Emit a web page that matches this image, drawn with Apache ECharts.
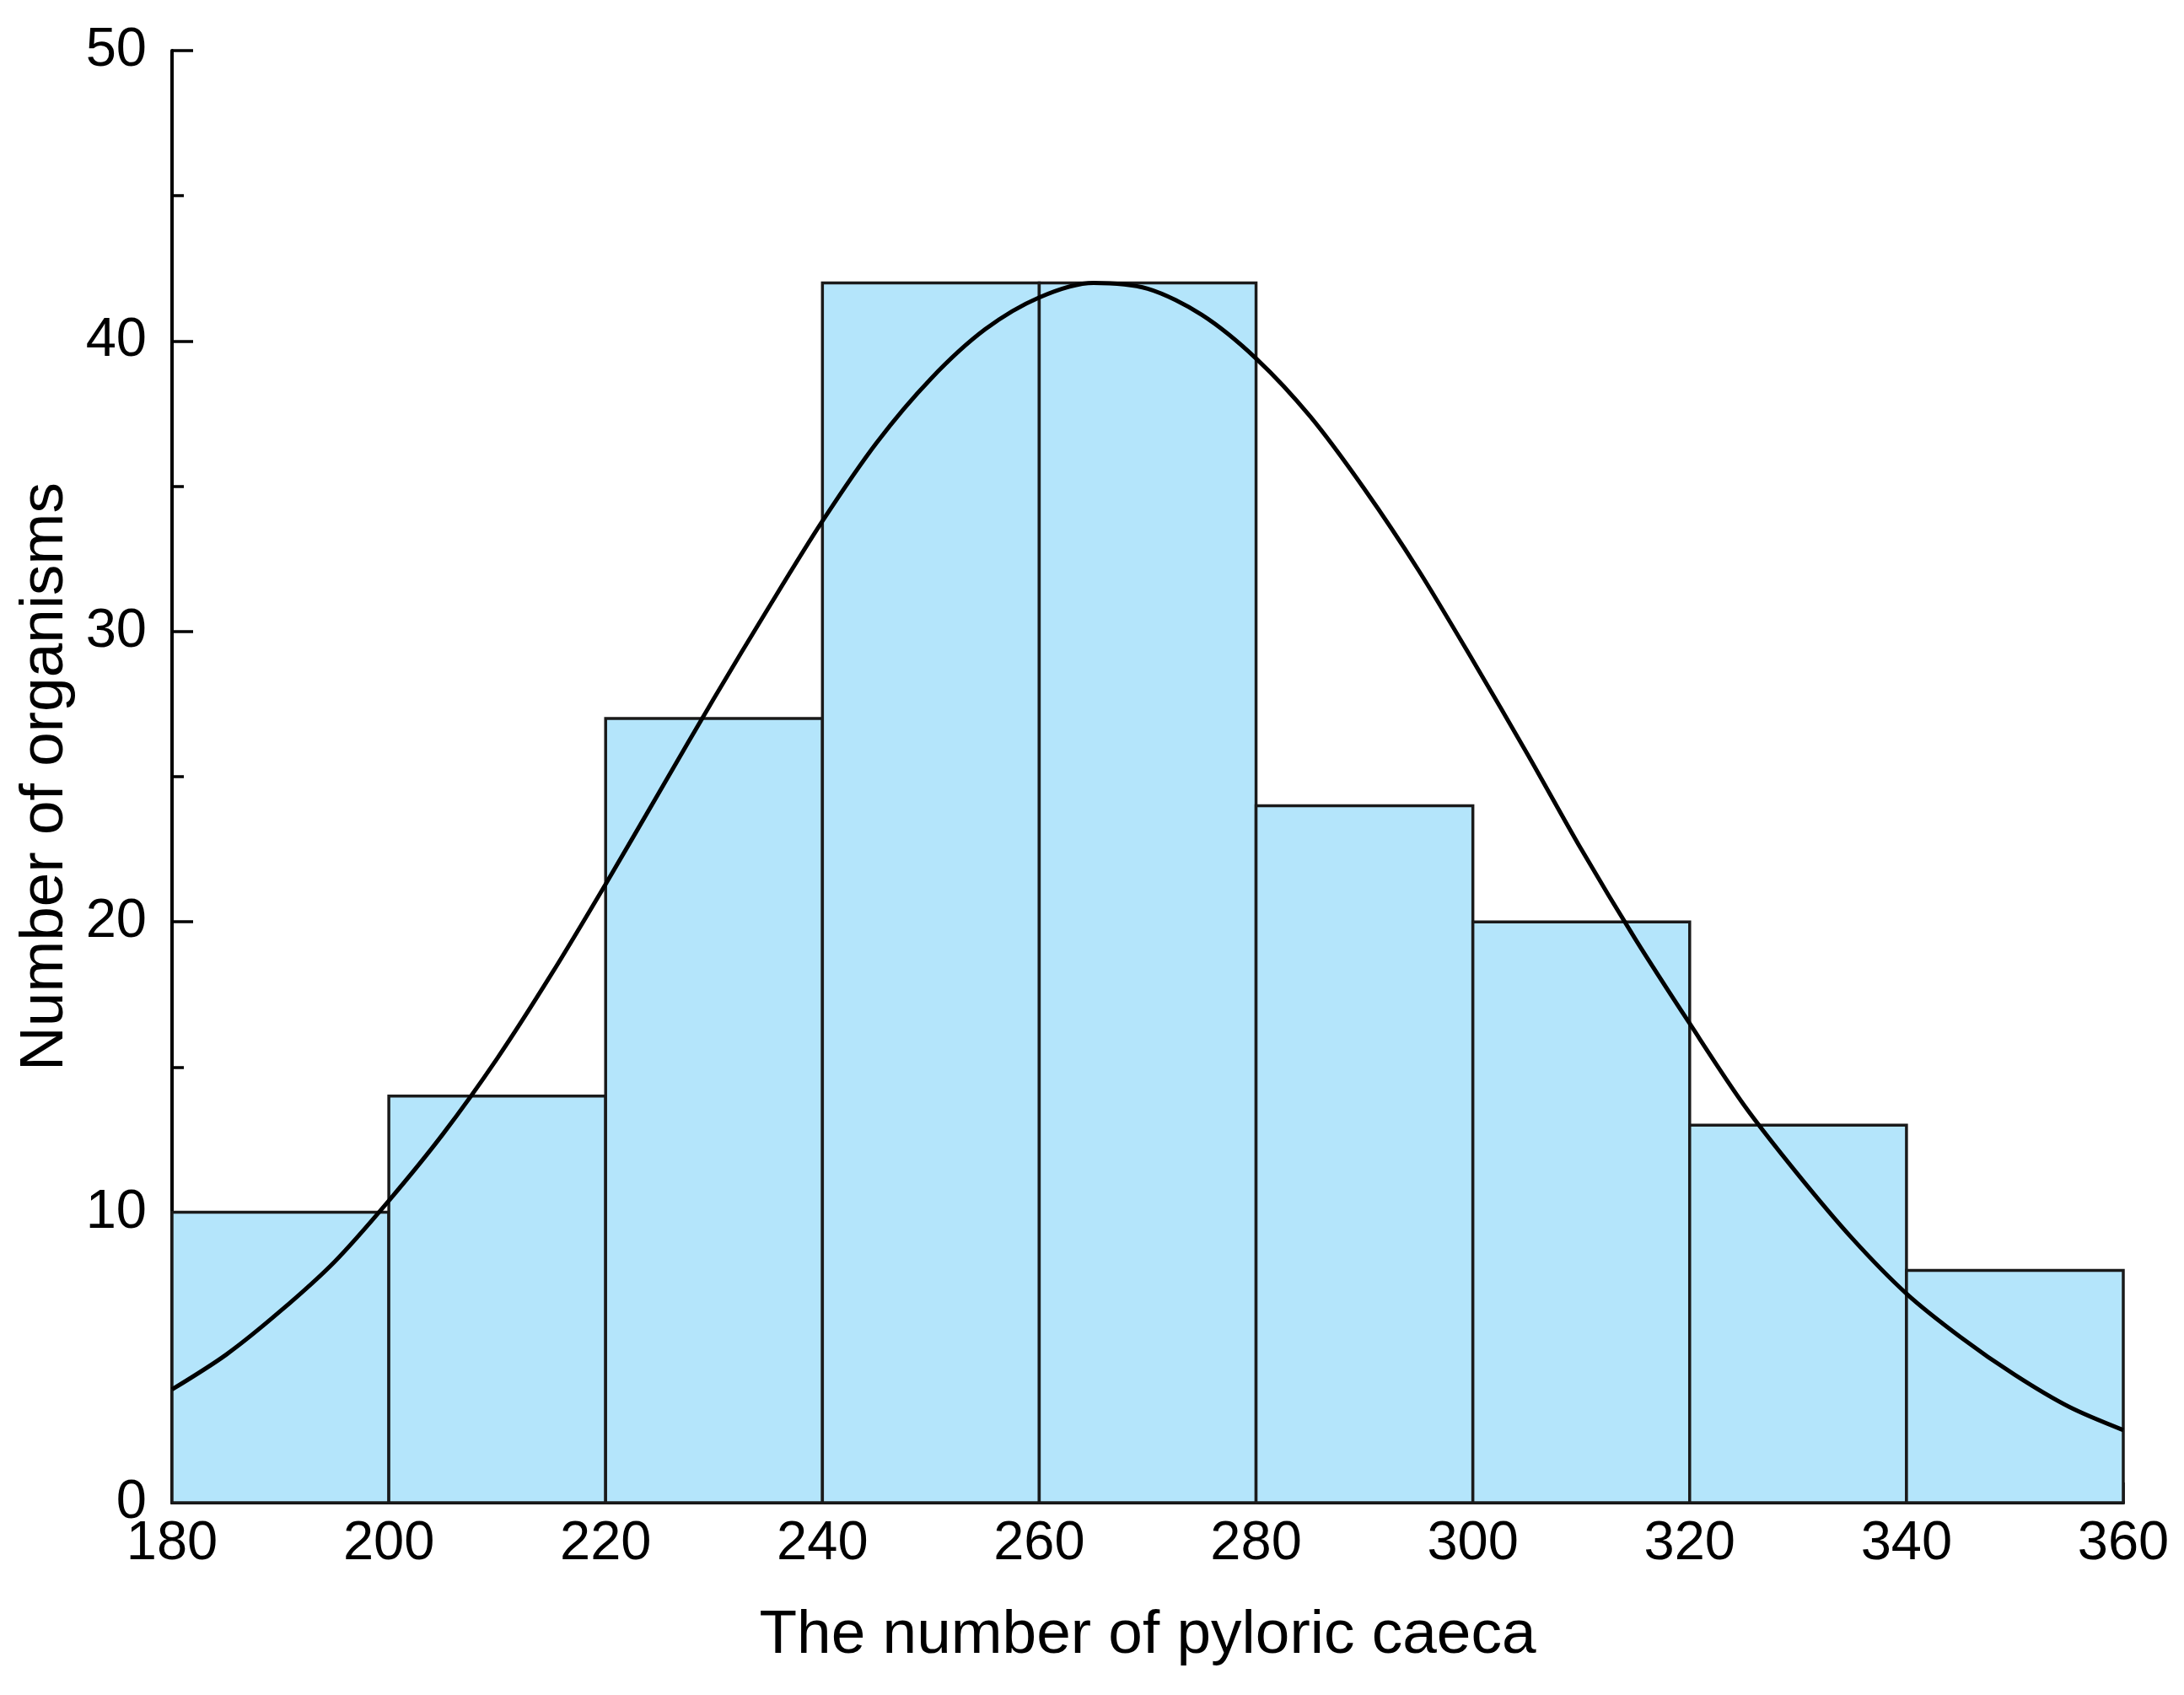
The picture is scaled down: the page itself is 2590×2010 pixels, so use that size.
<!DOCTYPE html>
<html>
<head>
<meta charset="utf-8">
<script src="https://cdn.jsdelivr.net/npm/echarts@6/dist/echarts.min.js"></script>
<style>
html,body{margin:0;padding:0;background:#fff;}
#chart{width:2590px;height:2010px;}
</style>
</head>
<body>
<div id="chart"></div>
<script>
// Histogram bins (pyloric caeca count ranges) and frequencies
const binStarts = [180, 200, 220, 240, 260, 280, 300, 320, 340];
const binEnds   = [200, 220, 240, 260, 280, 300, 320, 340, 360];
const counts    = [10, 14, 27, 42, 42, 24, 20, 13, 8];

// Fitted normal curve
const curveX = [180,185,190,195,200,205,210,215,220,225,230,235,240,245,250,255,260,265,270,275,280,285,290,295,300,305,310,315,320,325,330,335,340,345,350,355,360];
const curveY = [3.9,5.1,6.6,8.3,10.4,12.7,15.3,18.2,21.3,24.5,27.7,30.8,33.8,36.5,38.7,40.4,41.5,42.0,41.8,40.9,39.4,37.4,34.9,32.1,29.0,25.8,22.5,19.4,16.5,13.7,11.3,9.1,7.2,5.7,4.4,3.3,2.5];

// Axis ticks
const xTicks = [180, 200, 220, 240, 260, 280, 300, 320, 340, 360];
const yTicks = [0, 10, 20, 30, 40, 50];

const xTitle = 'The number of pyloric caeca';
const yTitle = 'Number of organisms';

const histData = binStarts.map((s, i) => [s, binEnds[i], counts[i]]);
const curveData = curveX.map((x, i) => [x, curveY[i]]);

const FONT = '"Liberation Sans", Arial, sans-serif';
const chart = echarts.init(document.getElementById('chart'), null, {renderer: 'canvas'});

chart.setOption({
  animation: false,
  backgroundColor: '#ffffff',
  grid: {left: 204, right: 72, top: 60, bottom: 228, containLabel: false},
  xAxis: {
    type: 'value',
    min: xTicks[0],
    max: xTicks[xTicks.length - 1],
    interval: 20,
    name: xTitle,
    nameLocation: 'middle',
    nameGap: 121,
    nameTextStyle: {fontFamily: FONT, fontSize: 73, color: '#000'},
    axisLine: {show: true, lineStyle: {color: '#000', width: 4}},
    axisTick: {show: true, inside: true, length: 24, lineStyle: {color: '#000', width: 3.5}},
    minorTick: {show: true, splitNumber: 2, length: 13, lineStyle: {color: '#000', width: 3.5}},
    axisLabel: {fontFamily: FONT, fontSize: 65, color: '#000', margin: 17},
    splitLine: {show: false}
  },
  yAxis: {
    type: 'value',
    min: yTicks[0],
    max: yTicks[yTicks.length - 1],
    interval: 10,
    name: yTitle,
    nameLocation: 'middle',
    nameGap: 110,
    nameTextStyle: {fontFamily: FONT, fontSize: 73, color: '#000'},
    axisLine: {show: true, lineStyle: {color: '#000', width: 4}},
    axisTick: {show: true, inside: true, length: 25, lineStyle: {color: '#000', width: 3.5}},
    minorTick: {show: true, splitNumber: 2, length: 14, lineStyle: {color: '#000', width: 3.5}},
    axisLabel: {fontFamily: FONT, fontSize: 65, color: '#000', margin: 30},
    splitLine: {show: false}
  },
  series: [
    {
      type: 'custom',
      name: 'Histogram',
      data: histData,
      encode: {x: [0, 1], y: 2},
      renderItem: function (params, api) {
        const p0 = api.coord([api.value(0), api.value(2)]);
        const p1 = api.coord([api.value(1), 0]);
        return {
          type: 'rect',
          shape: {x: p0[0], y: p0[1], width: p1[0] - p0[0], height: p1[1] - p0[1]},
          style: {fill: '#b4e5fb', stroke: '#1a1a1a', lineWidth: 3.5}
        };
      },
      z: 1
    },
    {
      type: 'line',
      name: 'Normal fit',
      data: curveData,
      smooth: 0.3,
      symbol: 'none',
      lineStyle: {color: '#000', width: 5},
      z: 3
    }
  ]
});
</script>
</body>
</html>
